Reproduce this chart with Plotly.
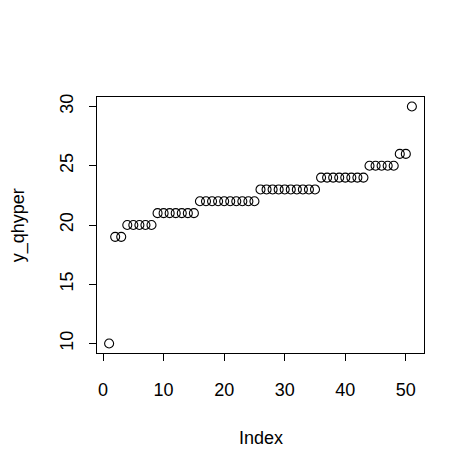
import plotly.graph_objects as go

# sorted qhyper sample, one value per index
index = list(range(1, 52))
y_qhyper = ([10] + [19] * 2 + [20] * 5 + [21] * 7 + [22] * 10 + [23] * 10
            + [24] * 8 + [25] * 5 + [26] * 2 + [30])

x_ticks = [0, 10, 20, 30, 40, 50]
y_ticks = [10, 15, 20, 25, 30]

font = "Liberation Sans, Arial, Helvetica, sans-serif"

fig = go.Figure()
fig.add_trace(go.Scatter(
    x=index, y=y_qhyper, mode="markers",
    marker=dict(symbol="circle-open", size=9, color="black", line=dict(width=1.1)),
    showlegend=False,
))

ax = dict(showgrid=False, zeroline=False, showline=True, linecolor="black",
          linewidth=1, mirror=True, ticks="outside", ticklen=7, tickwidth=1,
          tickcolor="black", tickfont=dict(size=18, color="black", family=font))

fig.update_xaxes(range=[-1, 53], tickvals=x_ticks, ticklabelstandoff=13, **ax)
fig.update_yaxes(range=[9.2, 30.8], tickvals=y_ticks, tickangle=-90,
                 ticklabelstandoff=9, **ax)

fig.add_annotation(text="Index", xref="paper", yref="paper", x=0.5, y=-0.332,
                   xanchor="center", yanchor="middle", showarrow=False,
                   font=dict(size=18, color="black", family=font))
fig.add_annotation(text="y_qhyper", xref="paper", yref="paper", x=-0.241, y=0.5,
                   xanchor="center", yanchor="middle", textangle=-90, showarrow=False,
                   font=dict(size=18, color="black", family=font))

# margins allow for the page's own 8px body offset
fig.update_layout(
    width=474, height=474,
    margin=dict(l=89, r=58, t=89, b=129),
    paper_bgcolor="white", plot_bgcolor="white",
    font=dict(family=font),
)

fig.write_html("out.html")
